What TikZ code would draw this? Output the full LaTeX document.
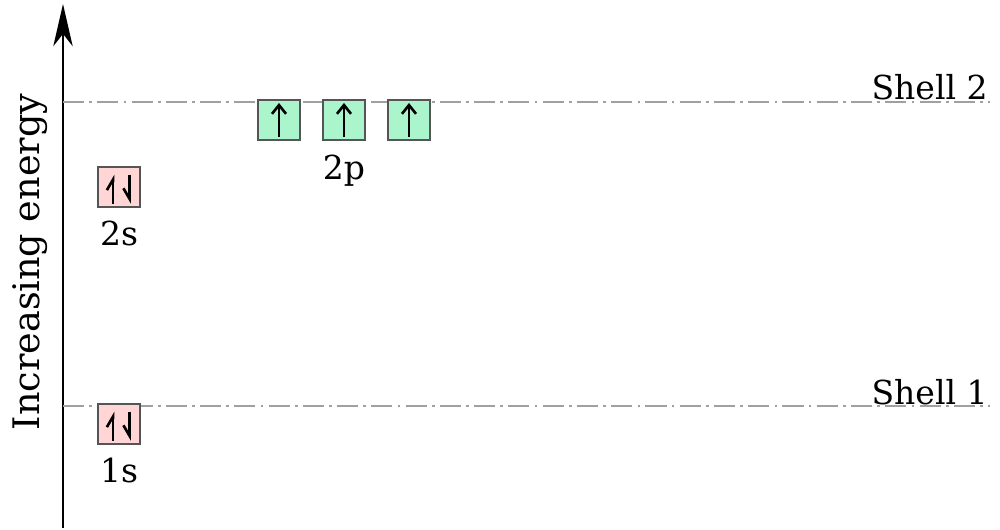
\documentclass[tikz,border=0pt]{standalone}
\usepackage{fontspec}
\setmainfont{DejaVu Serif}
\usetikzlibrary{arrows.meta}

\definecolor{pairpink}{HTML}{FFD5D5}
\definecolor{singlegreen}{HTML}{AAF5CC}
\definecolor{shellgray}{HTML}{A0A0A0}
\definecolor{boxgray}{HTML}{555555}

\begin{document}
\begin{tikzpicture}[x=0.02cm, y=-0.02cm, font=\fontsize{18.8}{22}\selectfont]
\useasboundingbox (0,0) rectangle (1000,530);

%the energy axis, drawn from bottom to top
\coordinate (bottom) at (63,528);
\coordinate (top) at (63,4);
\draw[line width=1.4pt, -{Stealth[length=24pt,width=11pt,inset=7pt]}] (bottom) -- (top);
\node[rotate=90, anchor=base, font=\fontsize{20.8}{24}\selectfont] (energy) at (39,262) {Increasing energy};

%the two shell levels, dash-dot lines with a label at the right end
\begin{scope}[every node/.style={anchor=base east, inner sep=0pt},
              shell/.style={draw=shellgray, line width=1.2pt,
                            dash pattern=on 12pt off 3pt on 1.5pt off 3pt}]
    \coordinate (s2left) at (63,102);
    \coordinate (s2right) at (990,102);
    \coordinate (s1left) at (63,406);
    \coordinate (s1right) at (990,406);
    \draw[shell] (s2left) -- (s2right);
    \draw[shell] (s1left) -- (s1right);
    \node (shell2) at (988,100) {Shell 2};
    \node (shell1) at (988,404) {Shell 1};
\end{scope}

%orbital boxes: pink ones hold a pair, green ones a single electron
\begin{scope}[orbital/.style={draw=boxgray, line width=0.6pt, inner sep=0pt,
                              minimum width=0.84cm, minimum height=0.8cm},
              pair/.style={orbital, fill=pairpink},
              single/.style={orbital, fill=singlegreen}]
    \node[pair] (s1) at (119,424) {};
    \node[pair] (s2) at (119,187) {};
    \node[single] (p1) at (279,120) {};
    \node[single] (p2) at (344,120) {};
    \node[single] (p3) at (409,120) {};
\end{scope}

%electron spins drawn inside the boxes
\begin{scope}[spinup/.style={line width=1.5pt, -{Straight Barb[harpoon,length=6pt,width=7pt]}},
              spindown/.style={line width=1.5pt, -{Straight Barb[harpoon,swap,length=6pt,width=7pt]}},
              single spin/.style={line width=1.5pt, -{Straight Barb[length=5pt,width=8pt]}}]
    \foreach \orb in {s1,s2}{
        \draw[spinup] ([xshift=-3.4pt,yshift=-9.5pt]\orb.center) -- ([xshift=-3.4pt,yshift=7pt]\orb.center);
        \draw[spindown] ([xshift=6pt,yshift=7pt]\orb.center) -- ([xshift=6pt,yshift=-9.5pt]\orb.center);
    }
    \foreach \orb in {p1,p2,p3}
        \draw[single spin] ([yshift=-9.7pt]\orb.center) -- ([yshift=9.7pt]\orb.center);
\end{scope}

%subshell names under the boxes
\begin{scope}[every node/.style={anchor=base}]
    \node (name1s) at (119,482) {1s};
    \node (name2s) at (119,245) {2s};
    \node (name2p) at (344,180) {2p};
\end{scope}
\end{tikzpicture}
\end{document}
